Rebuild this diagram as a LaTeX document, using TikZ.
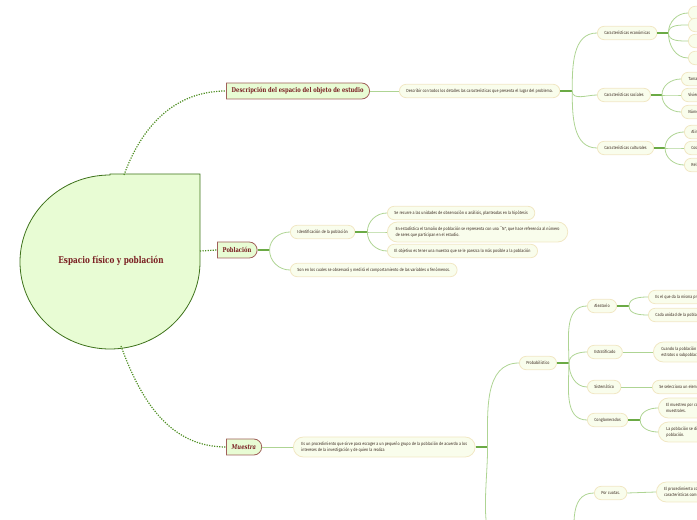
\documentclass[tikz,border=0pt]{standalone}
\usepackage{fontspec}
\usetikzlibrary{shapes.misc,calc}
\newfontfamily\leaffont[FakeStretch=0.85]{Fira Sans}
\newfontfamily\titlefont[FakeStretch=0.78]{DejaVu Serif}
\definecolor{leaffill}{HTML}{F9FDEC}
\definecolor{leafdraw}{HTML}{F1E7C4}
\definecolor{mainfill}{HTML}{E8FCD4}
\definecolor{maindraw}{HTML}{A0605A}
\definecolor{maintext}{HTML}{7A1F22}
\definecolor{txt}{HTML}{3A2A20}
\definecolor{lightg}{HTML}{AED493}
\definecolor{darkg}{HTML}{6BAA45}
\definecolor{dotg}{HTML}{4E8E22}
\tikzset{
 leaf/.style={rounded rectangle, fill=leaffill, draw=leafdraw, line width=0.6pt, text=txt,
   font=\leaffont\fontsize{3.3}{4.2}\selectfont, inner xsep=5pt, minimum height=10pt, anchor=west, align=left},
 mainbox/.style={rounded rectangle, rounded rectangle left arc=none, fill=mainfill, draw=maindraw,
   line width=0.6pt, text=maintext, font=\titlefont\bfseries\fontsize{5}{6}\selectfont,
   inner xsep=4pt, minimum height=12pt, anchor=west},
 conn/.style={draw=lightg, line width=0.6pt},
 thickc/.style={draw=darkg, line width=1.1pt},
 dotc/.style={draw=dotg, densely dotted, line width=0.9pt}
}
\newcommand\lnk[3]{\draw[conn] (#1) to[out=#3,in=180] (#2.west);}
\begin{document}
\begin{tikzpicture}[x=0.75pt,y=-0.75pt]
\useasboundingbox (0,0) rectangle (697,520);
\clip (0,0) rectangle (697,520);
% central
\draw[draw=dotg!80!black, fill=mainfill, line width=0.6pt] (110,174) -- (200,174) -- (200,262)
  arc[start angle=0,end angle=270,x radius=90,y radius=87] -- cycle;
\node (c) at (111,261) {\textcolor{maintext}{\titlefont\bfseries\fontsize{7}{8}\selectfont Espacio físico y población}};
\coordinate (ctop) at (124,175);
\coordinate (cright) at (200,251);
\coordinate (cbot) at (121,346);
% main branches
\node[mainbox] (desc) at (226,91) {Descripción del espacio del objeto de estudio};
\node[mainbox] (pob) at (217,250) {Población};
\node[mainbox, font=\titlefont\bfseries\itshape\fontsize{5}{6}\selectfont] (mue) at (226,447) {Muestra};
\draw[dotc] (ctop) to[out=70,in=180] (desc.west);
\draw[dotc] (cright) -- (pob.west);
\draw[dotc] (cbot) to[out=-70,in=180] (mue.west);

% Descripción
\node[leaf] (dd) at (399,91) {Describir con todos los detalles las características que presenta el lugar del problema.};
\draw[conn] (desc.east) -- (dd.west);
\node[leaf] (eco) at (597,33) {Características económicas};
\node[leaf] (soc) at (597,95) {Características sociales};
\node[leaf] (cul) at (597,148) {Características culturales};
\coordinate (j1) at ($(dd.east)+(12,0)$);
\draw[thickc] (dd.east) -- (j1);
\lnk{j1}{eco}{90}\lnk{j1}{soc}{-90}\lnk{j1}{cul}{-90}
\node[leaf] (e1) at (688,13) {\phantom{Exportación}};
\node[leaf] (e2) at (688,25) {\phantom{Exportación}};
\node[leaf] (e3) at (688,41) {\phantom{Exportación}};
\node[leaf] (e4) at (688,58) {\phantom{Exportación}};
\coordinate (j2) at ($(eco.east)+(11,0)$);
\draw[thickc] (eco.east) -- (j2);
\lnk{j2}{e1}{90}\lnk{j2}{e2}{90}\lnk{j2}{e3}{-90}\lnk{j2}{e4}{-90}
\node[leaf] (s1) at (681,79) {Tamaño};
\node[leaf] (s2) at (681,95) {Vivienda};
\node[leaf] (s3) at (681,112) {Número};
\coordinate (j3) at ($(soc.east)+(11,0)$);
\draw[thickc] (soc.east) -- (j3);
\lnk{j3}{s1}{90}\lnk{j3}{s2}{0}\lnk{j3}{s3}{-90}
\node[leaf] (u1) at (684,132) {Alimentación};
\node[leaf] (u2) at (684,148) {Costumbres};
\node[leaf] (u3) at (684,165) {Religión};
\coordinate (j4) at ($(cul.east)+(11,0)$);
\draw[thickc] (cul.east) -- (j4);
\lnk{j4}{u1}{90}\lnk{j4}{u2}{0}\lnk{j4}{u3}{-90}

% Población
\node[leaf] (ide) at (290,232) {Identificación de la población};
\node[leaf] (son) at (290,270) {Son en los cuales se observará y medirá el comportamiento de las variables o fenómenos.};
\coordinate (j5) at ($(pob.east)+(12,0)$);
\draw[thickc] (pob.east) -- (j5);
\lnk{j5}{ide}{90}\lnk{j5}{son}{-90}
\node[leaf] (i1) at (387,213) {Se recurre a las unidades de observación o análisis, planteadas en la hipótesis};
\node[leaf, minimum height=15pt] (i2) at (387,232) {En estadística el tamaño de población se representa con una ``N'', que hace referencia al número\\de seres que participan en el estudio.};
\node[leaf] (i3) at (387,251) {El objetivo es tener una muestra que se le parezca lo más posible a la población};
\coordinate (j6) at ($(ide.east)+(12,0)$);
\draw[thickc] (ide.east) -- (j6);
\lnk{j6}{i1}{90}\lnk{j6}{i2}{0}\lnk{j6}{i3}{-90}

% Muestra
\node[leaf, minimum height=15pt] (md) at (293,447) {Es un procedimiento que sirve para escoger a un pequeño grupo de la población de acuerdo a los\\intereses de la investigación y de quien la realiza};
\draw[conn] (mue.east) -- (md.west);
\node[leaf] (pro) at (519,363) {Probabilístico};
\node[leaf] (nop) at (519,560) {No probabilístico};
\coordinate (j7) at ($(md.east)+(12,0)$);
\draw[thickc] (md.east) -- (j7);
\lnk{j7}{pro}{90}\lnk{j7}{nop}{-90}
\node[leaf] (ale) at (587,306) {Aleatorio};
\node[leaf] (est) at (587,352) {Estratificado};
\node[leaf] (sis) at (587,387) {Sistemático};
\node[leaf] (con) at (587,420) {Conglomerados};
\coordinate (j8) at ($(pro.east)+(12,0)$);
\draw[thickc] (pro.east) -- (j8);
\lnk{j8}{ale}{90}\lnk{j8}{est}{90}\lnk{j8}{sis}{-90}\lnk{j8}{con}{-90}
\node[leaf] (a1) at (648,297) {Es el que da la misma probabilidad a cada elemento};
\node[leaf] (a2) at (648,315) {Cada unidad de la población tiene la misma probabilidad};
\coordinate (j9) at ($(ale.east)+(12,0)$);
\draw[thickc] (ale.east) -- (j9);
\lnk{j9}{a1}{90}\lnk{j9}{a2}{-90}
\node[leaf, minimum height=15pt] (t1) at (653,352) {Cuando la población se divide en\\estratos o subpoblaciones};
\draw[conn] (est.east) -- (t1.west);
\node[leaf] (y1) at (652,387) {Se selecciona un elemento cada cierto intervalo};
\draw[conn] (sis.east) -- (y1.west);
\node[leaf, minimum height=15pt] (g1) at (658,408) {El muestreo por conglomerados\\muestrales.};
\node[leaf, minimum height=15pt] (g2) at (658,432) {La población se divide en grupos\\población.};
\coordinate (j10) at ($(con.east)+(12,0)$);
\draw[thickc] (con.east) -- (j10);
\lnk{j10}{g1}{90}\lnk{j10}{g2}{-90}
\node[leaf] (cuo) at (594,493) {Por cuotas.};
\coordinate (j11) at ($(nop.east)+(12,0)$);
\draw[thickc] (nop.east) -- (j11);
\lnk{j11}{cuo}{90}
\node[leaf, minimum height=15pt] (q1) at (656,492) {El procedimiento consiste en\\características comunes};
\draw[conn] (cuo.east) -- (q1.west);
\end{tikzpicture}
\end{document}
